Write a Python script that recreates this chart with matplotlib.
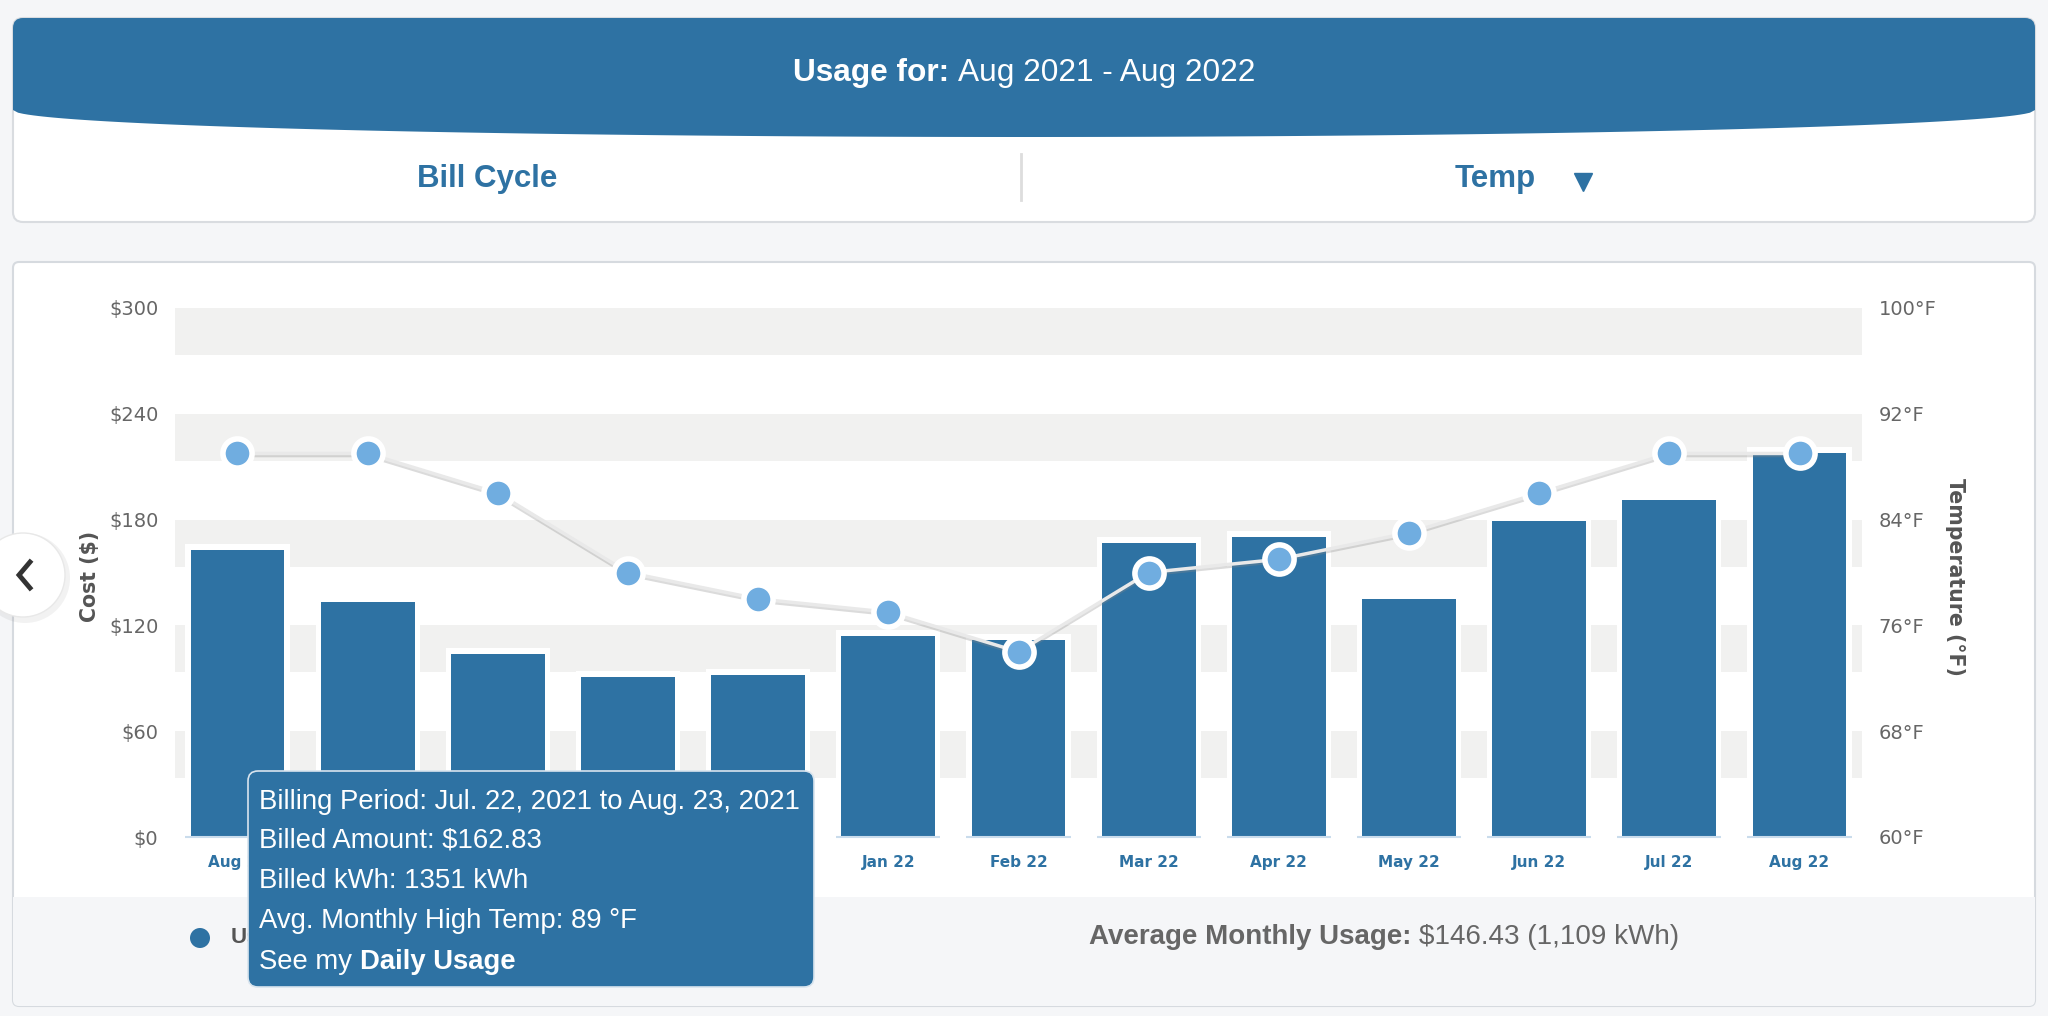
import numpy as np
import matplotlib
matplotlib.use("Agg")
import matplotlib.pyplot as plt
import matplotlib.patheffects as pe
from matplotlib.patches import FancyBboxPatch, Rectangle, Circle, Polygon

# ---- data ----
months = ["Aug 21", "Sep 21", "Oct 21", "Nov 21", "Dec 21", "Jan 22", "Feb 22",
          "Mar 22", "Apr 22", "May 22", "Jun 22", "Jul 22", "Aug 22"]
cost = [162.83, 133, 104, 91, 92, 114, 112, 167, 170, 135, 179, 191, 218]
temp = [89, 89, 86, 80, 78, 77, 74, 80, 81, 83, 86, 89, 89]
cost_ticks = [0, 60, 120, 180, 240, 300]
cost_labels = ["$0", "$60", "$120", "$180", "$240", "$300"]
temp_ticks = [60, 68, 76, 84, 92, 100]
temp_labels = ["60°F", "68°F", "76°F", "84°F", "92°F", "100°F"]
tooltip_lines = ["Billing Period: Jul. 22, 2021 to Aug. 23, 2021",
                 "Billed Amount: $162.83",
                 "Billed kWh: 1351 kWh",
                 "Avg. Monthly High Temp: 89 °F"]

BLUE = "#2e72a3"
LIGHT_BLUE = "#70ade0"
BAND = "#f1f1f0"
GREY_TXT = "#666666"
UI_FONT = ["Liberation Sans", "DejaVu Sans"]
W, H = 2048, 1016

fig = plt.figure(figsize=(W / 100, H / 100), dpi=100)
fig.patch.set_facecolor("#f5f6f8")


def pixel_axes(z):
    a = fig.add_axes([0, 0, 1, 1])
    a.set_xlim(0, W)
    a.set_ylim(H, 0)
    a.axis("off")
    a.set_zorder(z)
    return a


def rich(axis, x, y, parts, size, color, ha="center", gap=0.28):
    # draws (text, weight) pieces next to each other on one line
    r = fig.canvas.get_renderer()
    items = []
    for s, w in parts:
        t = axis.text(0, y, s, fontsize=size, fontweight=w, color=color,
                      ha="left", va="center", family=UI_FONT)
        items.append((t, t.get_window_extent(r).width))
    sp = gap * size * 100 / 72
    total = sum(wd for _, wd in items) + sp * (len(items) - 1)
    x0 = x - total / 2 if ha == "center" else x
    for t, wd in items:
        t.set_x(x0)
        x0 += wd + sp


bg = pixel_axes(0)

# ---- top card with curved blue header ----
card1 = FancyBboxPatch((13, 18), 2022, 204, boxstyle="round,pad=0,rounding_size=10",
                       fc="white", ec="#d9dce0", lw=1.5)
bg.add_patch(card1)
xs = np.linspace(13, 2035, 400)
ys = 110 + 27 * np.sqrt(np.clip(1 - ((xs - 1024) / 1011) ** 2, 0, 1))
verts = [(13, 10), (2035, 10)] + list(zip(xs[::-1], ys[::-1]))
head = Polygon(verts, closed=True, fc=BLUE, ec="none")
bg.add_patch(head)
head.set_clip_path(card1)
rich(bg, 1024, 73, [("Usage for:", "bold"), ("Aug 2021 - Aug 2022", "normal")], 22.8, "white")
bg.plot([1021, 1021], [154, 200], color="#dddddd", lw=2)
bg.text(487, 179, "Bill Cycle", fontsize=22.5, fontweight="bold", color=BLUE,
        ha="center", va="center", family=UI_FONT)
bg.text(1495, 179, "Temp", fontsize=22.5, fontweight="bold", color=BLUE,
        ha="center", va="center", family=UI_FONT)
bg.plot(1583, 182, marker="v", ms=13, color=BLUE)

# ---- chart card ----
card2 = FancyBboxPatch((13, 262), 2022, 744, boxstyle="round,pad=0,rounding_size=6",
                       fc="white", ec="#d6dadf", lw=1.5)
bg.add_patch(card2)
leg = Rectangle((13, 897), 2022, 110, fc="#f5f6f8", ec="none")
bg.add_patch(leg)
leg.set_clip_path(card2)
bg.add_patch(Circle((200, 938), 10, fc=BLUE, ec="none"))
bg.text(231, 938, "Usage", fontsize=16, fontweight="bold", color="#555555",
        va="center", family=UI_FONT)
rich(bg, 1384, 937, [("Average Monthly Usage:", "bold"), ("$146.43 (1,109 kWh)", "normal")],
     20, GREY_TXT)

# nav button
bg.add_patch(Circle((25, 578), 45, fc="black", alpha=0.05, ec="none"))
bg.add_patch(Circle((23, 575), 42, fc="white", ec="#e8e8e8", lw=1))
bg.plot([30, 19, 30], [562, 575, 588], color="#333333", lw=3.5, solid_joinstyle="miter")

# ---- the chart itself ----
ax = fig.add_axes([175 / W, 1 - 837 / H, (1862 - 175) / W, 529 / H])
ax.set_zorder(1)
ax.set_facecolor("none")
x = np.arange(len(months))
ax.set_xlim(-0.48, len(months) - 0.52)
ax.set_ylim(cost_ticks[0], cost_ticks[-1])
for v in cost_ticks[1:]:
    ax.axhspan(v - 26.6, v, color=BAND, lw=0, zorder=0)
pad = 6 * cost_ticks[-1] / 529
ax.bar(x, np.array(cost) + pad, width=0.80, color="white", zorder=2)
ax.bar(x, cost, width=0.72, color=BLUE, zorder=3)
ax.hlines(np.zeros(len(x)), x - 0.4, x + 0.4, color="#cadcec", lw=1.5, zorder=4, clip_on=False)
ax.set_yticks(cost_ticks, cost_labels)
ax.set_xticks(x, months)
ax.tick_params(axis="y", length=0, pad=12, labelsize=14, labelcolor=GREY_TXT)
ax.tick_params(axis="x", length=0, pad=13, labelsize=11, labelcolor=BLUE)
for lbl in ax.get_xticklabels():
    lbl.set_fontweight("bold")
for s in ax.spines.values():
    s.set_visible(False)
ax.set_ylabel("Cost ($)", fontsize=14.8, fontweight="bold", color="#555555", va="center")
ax.yaxis.set_label_coords((90 - 175) / 1687, 0.4925)

ax2 = ax.twinx()
ax2.set_ylim(temp_ticks[0], temp_ticks[-1])
ax2.set_yticks(temp_ticks, temp_labels)
ax2.tick_params(axis="y", length=0, pad=12, labelsize=14, labelcolor=GREY_TXT)
for s in ax2.spines.values():
    s.set_visible(False)
ax2.plot(x, temp, color="#e9e9e9", lw=2.5, zorder=1,
         path_effects=[pe.SimpleLineShadow(offset=(0, -1.5), shadow_color="#888888", alpha=0.3),
                       pe.Normal()])
ax2.plot(x, temp, "o", ms=21, mfc=LIGHT_BLUE, mec="white", mew=4, ls="none", zorder=2)
ax2.set_ylabel("Temperature (°F)", rotation=270, fontsize=14.8, fontweight="bold",
               color="#555555", va="center")
ax2.yaxis.set_label_coords((1955 - 175) / 1687, 0.4925)

# ---- tooltip over the chart ----
ov = pixel_axes(10)
ov.add_patch(FancyBboxPatch((248, 771), 566, 216, boxstyle="round,pad=0,rounding_size=10",
                            fc=BLUE, ec="#d8e4ee", lw=1.2))
line_y = [802, 841, 881, 921, 962]
for yy, s in zip(line_y, tooltip_lines):
    ov.text(259, yy, s, fontsize=19.8, color="white", va="center", family=UI_FONT)
rich(ov, 259, line_y[-1], [("See my", "normal"), ("Daily Usage", "bold")], 19.8, "white", ha="left")

fig.savefig("out.png", dpi=100, facecolor=fig.get_facecolor())
